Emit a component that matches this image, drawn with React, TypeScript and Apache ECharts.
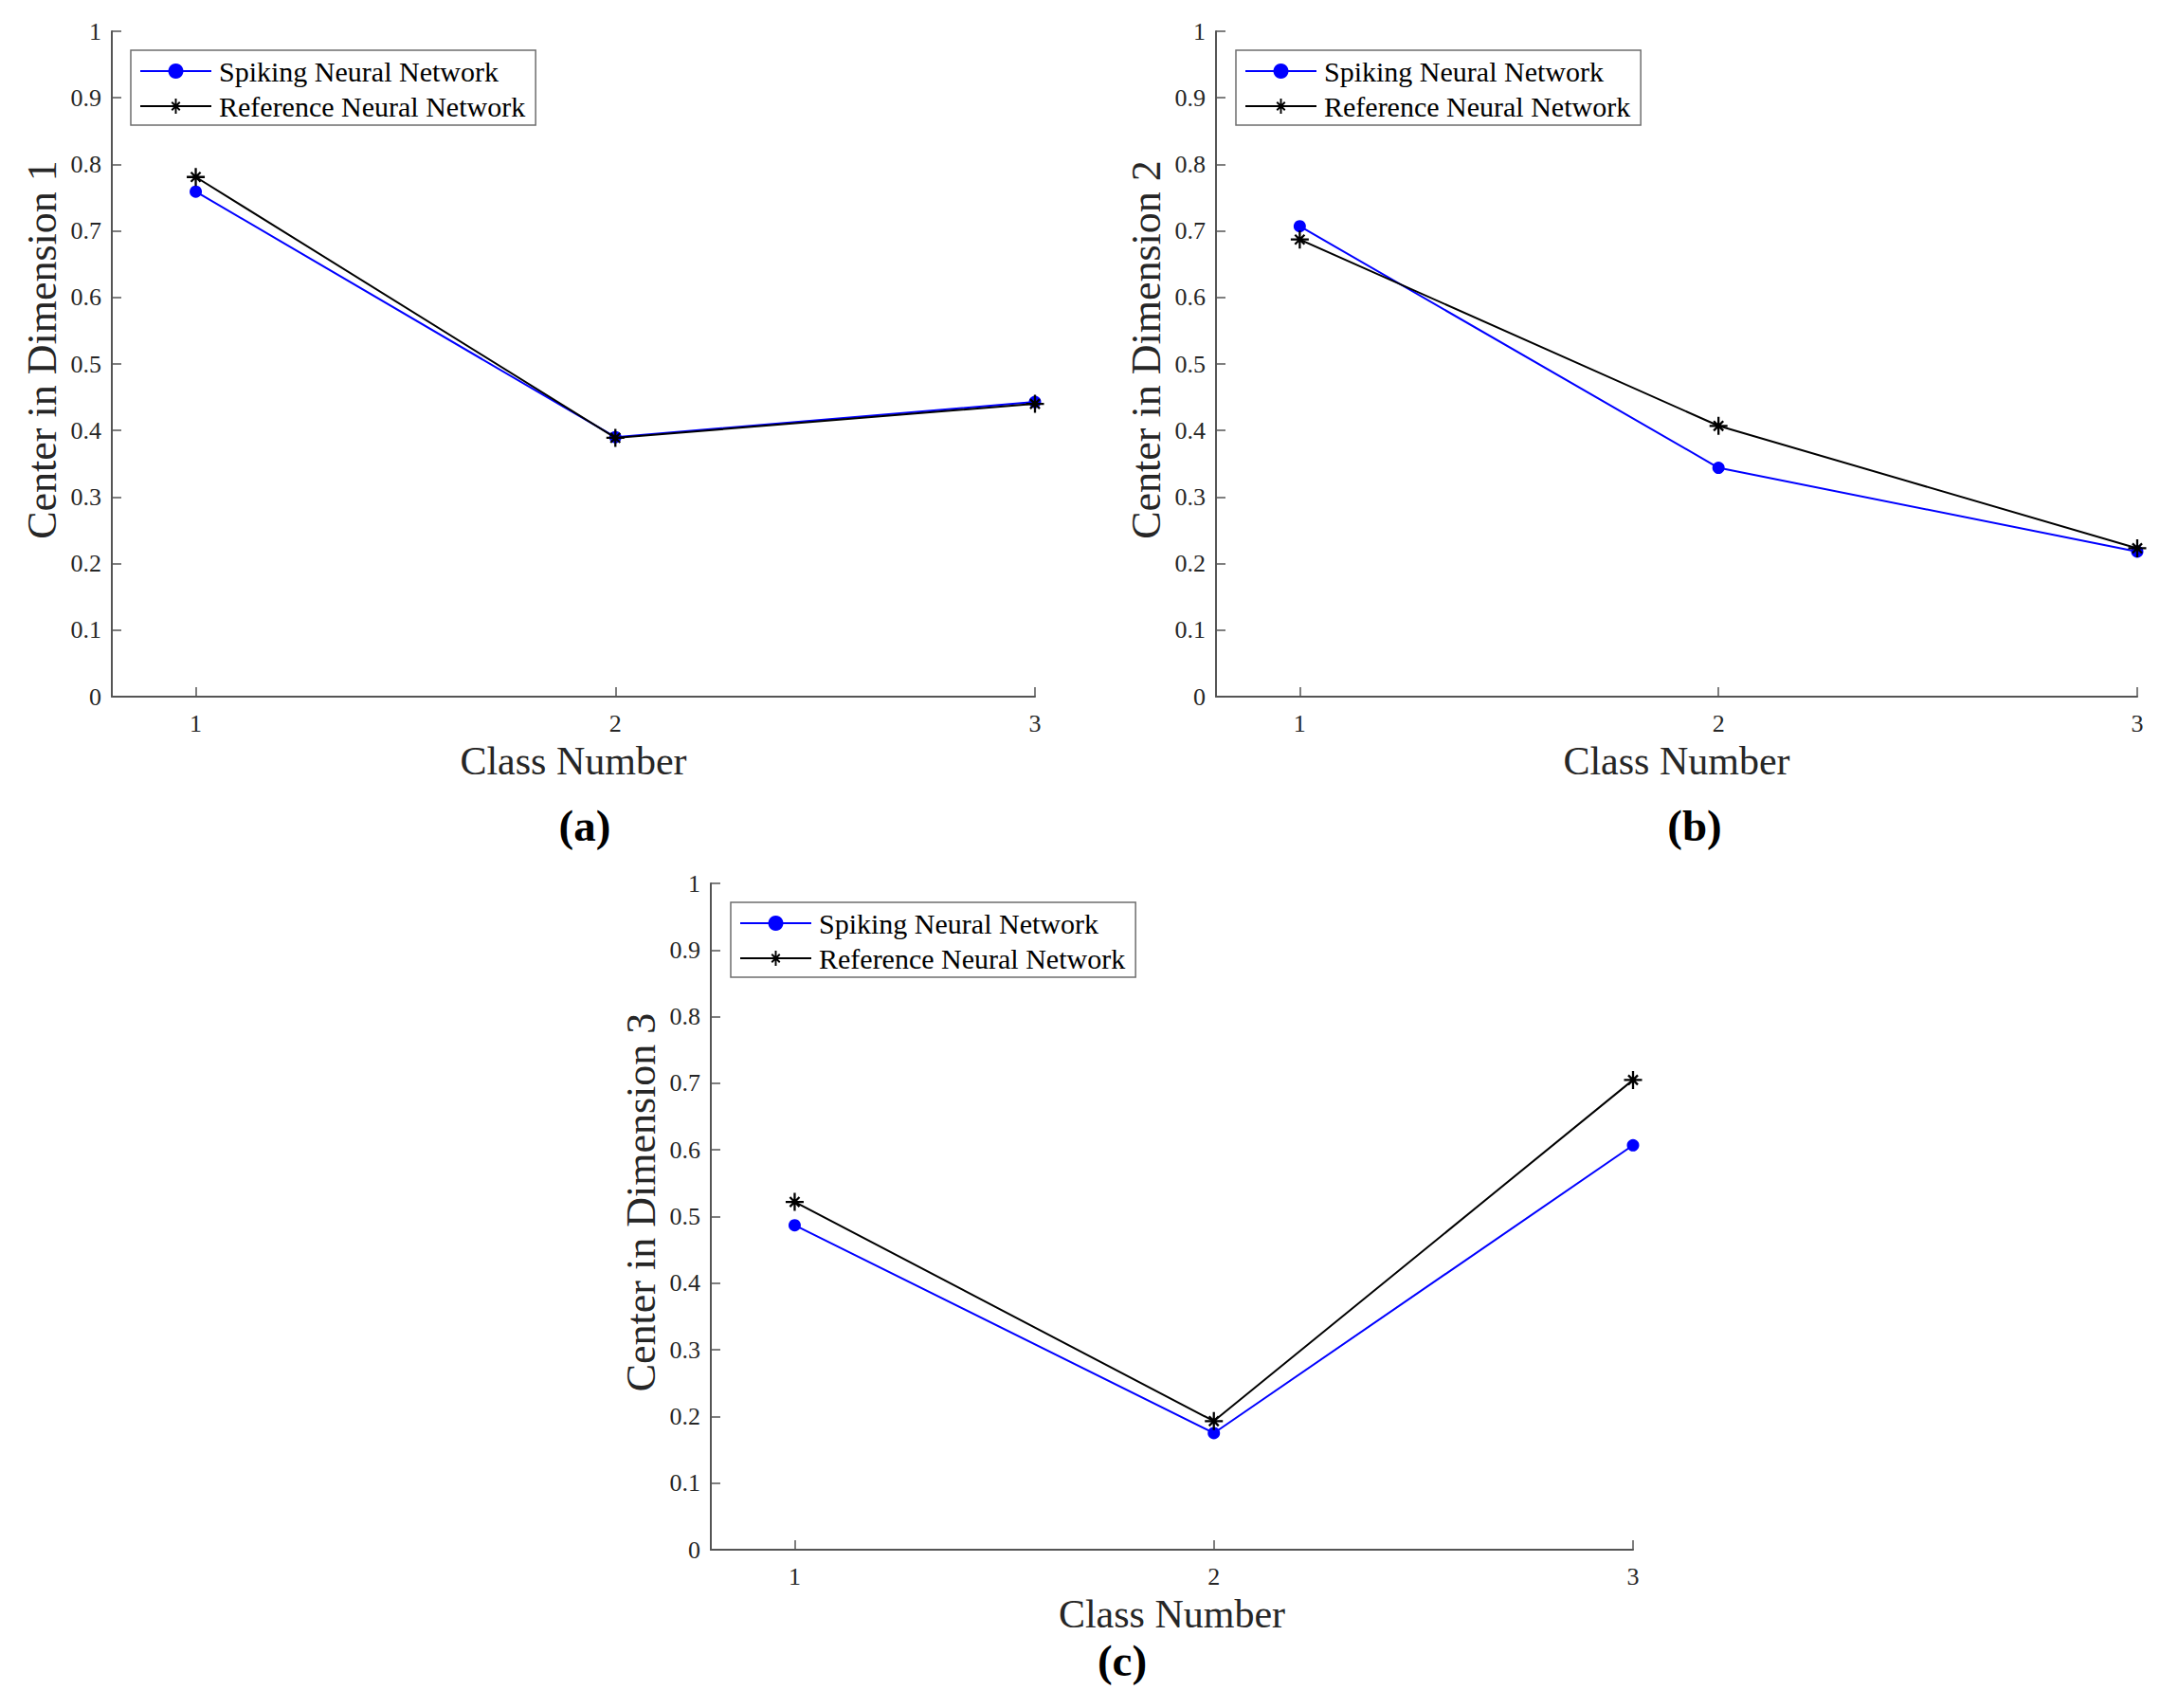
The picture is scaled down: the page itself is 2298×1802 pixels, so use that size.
import React, { useEffect, useRef } from "react";
import * as echarts from "echarts";

// ---- Data ----
const classes = [1, 2, 3];
const xTickValues = [1, 2, 3];
const snnDim1 = [0.759, 0.39, 0.443];
const refDim1 = [0.781, 0.389, 0.44];
const snnDim2 = [0.707, 0.344, 0.218];
const refDim2 = [0.687, 0.407, 0.223];
const snnDim3 = [0.487, 0.175, 0.607];
const refDim3 = [0.522, 0.193, 0.705];
const yAxisNames = ["Center in Dimension 1", "Center in Dimension 2", "Center in Dimension 3"];
const xAxisName = "Class Number";
const panelLabels = ["(a)", "(b)", "(c)"];
const seriesNames = ["Spiking Neural Network", "Reference Neural Network"];

const FONT = '"Liberation Serif", "Times New Roman", serif';
const AXIS_COLOR = "#555555";
const LABEL_COLOR = "#262626";

// asterisk marker made of filled bars (same winding)
const STAR =
  "path://M-1,-0.12L1,-0.12L1,0.12L-1,0.12Z" +
  "M-0.12,-1L0.12,-1L0.12,1L-0.12,1Z" +
  "M-0.615,-0.445L-0.445,-0.615L0.615,0.445L0.445,0.615Z" +
  "M-0.445,0.615L-0.615,0.445L0.445,-0.615L0.615,-0.445Z";

const grids = [
  { left: 118, top: 33, width: 974, height: 702 },
  { left: 1283, top: 33, width: 972, height: 702 },
  { left: 750, top: 932, width: 973, height: 703 },
];
const legendPos = [
  { left: 138, top: 53 },
  { left: 1304, top: 53 },
  { left: 771, top: 952 },
];
const labelPos = [
  [617, 871],
  [1788, 871],
  [1184, 1752],
];

export default function App() {
  const ref = useRef<HTMLDivElement>(null);
  useEffect(() => {
    if (!ref.current) return;
    const chart = echarts.init(ref.current, undefined, { renderer: "svg" });
    const snn = [snnDim1, snnDim2, snnDim3];
    const rf = [refDim1, refDim2, refDim3];

    const xAxes = grids.map((_, i) => ({
      type: "value",
      gridIndex: i,
      min: 0.8,
      max: 3,
      name: xAxisName,
      nameLocation: "middle",
      nameGap: 47,
      nameTextStyle: { fontFamily: FONT, fontSize: 42, color: LABEL_COLOR },
      axisLine: { show: true, onZero: false, lineStyle: { color: AXIS_COLOR, width: 2 } },
      axisTick: { show: true, inside: true, length: 10, customValues: xTickValues, lineStyle: { color: AXIS_COLOR, width: 1.5 } },
      axisLabel: {
        show: true,
        customValues: xTickValues,
        margin: 15,
        fontFamily: FONT,
        fontSize: 26,
        color: LABEL_COLOR,
        formatter: (v: number) => String(v),
      },
      splitLine: { show: false },
    }));
    const yAxes = grids.map((_, i) => ({
      type: "value",
      gridIndex: i,
      min: 0,
      max: 1,
      interval: 0.1,
      name: yAxisNames[i],
      nameLocation: "middle",
      nameRotate: 90,
      nameGap: 52,
      nameTextStyle: { fontFamily: FONT, fontSize: 44, color: LABEL_COLOR, padding: [0, 0, 0, 30] },
      axisLine: { show: true, onZero: false, lineStyle: { color: AXIS_COLOR, width: 2 } },
      axisTick: { show: true, inside: true, length: 10, lineStyle: { color: AXIS_COLOR, width: 1.5 } },
      axisLabel: {
        margin: 11,
        fontFamily: FONT,
        fontSize: 26,
        color: LABEL_COLOR,
        formatter: (v: number) => String(Math.round(v * 10) / 10),
      },
      splitLine: { show: false },
    }));

    const series: any[] = [];
    grids.forEach((_, i) => {
      series.push({
        type: "line",
        name: seriesNames[0],
        xAxisIndex: i,
        yAxisIndex: i,
        data: classes.map((c, k) => [c, snn[i][k]]),
        symbol: "circle",
        symbolSize: 13,
        lineStyle: { color: "#0000ff", width: 2 },
        itemStyle: { color: "#0000ff" },
        z: 2,
      });
      series.push({
        type: "line",
        name: seriesNames[1],
        xAxisIndex: i,
        yAxisIndex: i,
        data: classes.map((c, k) => [c, rf[i][k]]),
        symbol: STAR,
        symbolSize: 19,
        lineStyle: { color: "#000000", width: 2 },
        itemStyle: { color: "#000000" },
        z: 3,
      });
    });

    const legends = legendPos.map((p) => ({
      left: p.left,
      top: p.top,
      orient: "vertical",
      data: seriesNames,
      selectedMode: false,
      itemWidth: 75,
      itemHeight: 20,
      itemGap: 7,
      padding: [7, 11, 5, 9],
      backgroundColor: "#ffffff",
      borderColor: "#6e6e6e",
      borderWidth: 1.5,
      borderRadius: 0,
      textStyle: { fontFamily: FONT, fontSize: 30, color: "#000000", padding: [0, 0, 0, 3] },
    }));

    const graphic = panelLabels.map((t, i) => ({
      type: "text",
      x: labelPos[i][0],
      y: labelPos[i][1],
      style: {
        text: t,
        fontFamily: FONT,
        fontSize: 47,
        fontWeight: "bold",
        fill: "#000000",
        textAlign: "center",
        textVerticalAlign: "middle",
      },
    }));

    chart.setOption({
      animation: false,
      backgroundColor: "#ffffff",
      grid: grids.map((g) => ({ ...g, containLabel: false })),
      xAxis: xAxes,
      yAxis: yAxes,
      legend: legends,
      series,
      graphic,
    });
    return () => chart.dispose();
  }, []);
  return (
    <div
      ref={ref}
      style={{ position: "absolute", left: 0, top: 0, width: 2298, height: 1802, background: "#fff" }}
    />
  );
}
